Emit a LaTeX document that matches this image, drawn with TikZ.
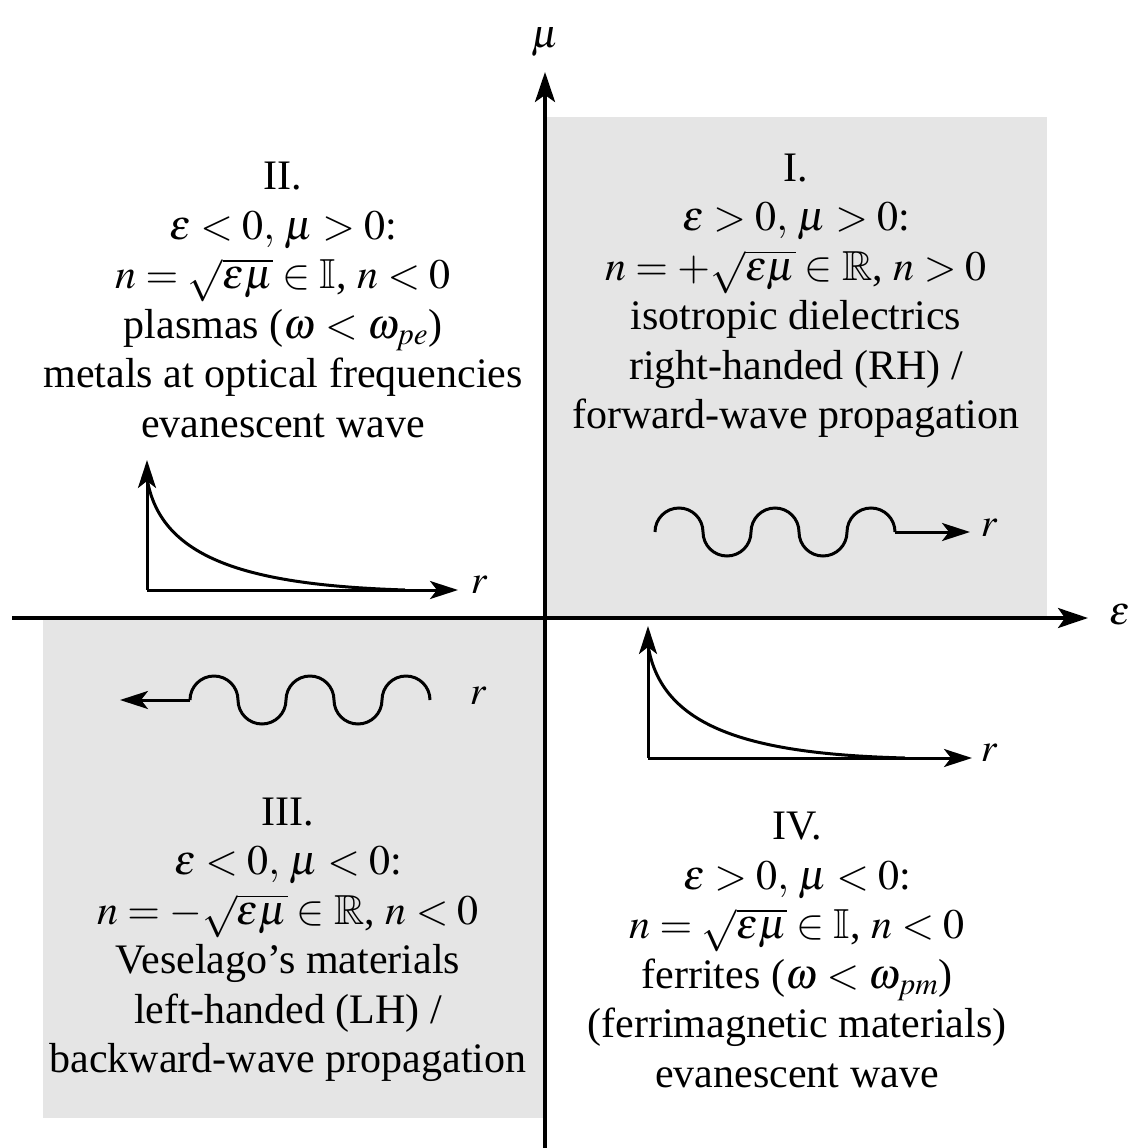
\documentclass[tikz,border=0pt]{standalone}
\usepackage{amssymb}
\usepackage{mathptmx}
\usepackage{fontspec}
\setmainfont{Liberation Serif}
\usetikzlibrary{arrows.meta}
\tikzset{
 ax/.style={line width=3.5pt,-{Stealth[length=30pt,width=20pt,inset=7pt]}},
 sm/.style={line width=3pt,-{Stealth[length=28pt,width=18pt,inset=7pt]}},
 cv/.style={line width=3pt},
 lbl/.style={align=center,font=\fontsize{42}{49.5}\selectfont,inner sep=0pt},
 rl/.style={font=\fontsize{40}{44}\selectfont,inner sep=0pt}
}
\begin{document}
\begin{tikzpicture}[x=1pt,y=-1pt]
\useasboundingbox (0,0) rectangle (1142,1148);
\fill[black!10] (545,117) rectangle (1047,618);
\fill[black!10] (43,618) rectangle (545,1118);
\coordinate (ys) at (545,1148); \coordinate (ye) at (545,72);
\coordinate (xs) at (12,618); \coordinate (xe) at (1088,618);
\draw[ax] (ys) -- (ye);
\draw[ax] (xs) -- (xe);
\node[rl] (mu) at (545,42) {$\mu$};
\node[rl] (eps) at (1120,615) {$\varepsilon$};
\node[lbl] (II) at (283,300) {II.\\ $\varepsilon<0,\,\mu>0$:\\ $n=\sqrt{\varepsilon\mu}\in\mathbb{I}$, $n<0$\\ plasmas ($\omega<\omega_{pe}$)\\ metals at optical frequencies\\ evanescent wave};
\node[lbl] (I) at (796,296) {I.\\ $\varepsilon>0,\,\mu>0$:\\ $n=+\sqrt{\varepsilon\mu}\in\mathbb{R}$, $n>0$\\ isotropic dielectrics\\ right-handed (RH) /\\ forward-wave propagation};
\node[lbl] (III) at (288,940) {III.\\ $\varepsilon<0,\,\mu<0$:\\ $n=-\sqrt{\varepsilon\mu}\in\mathbb{R}$, $n<0$\\ Veselago's materials\\ left-handed (LH) /\\ backward-wave propagation};
\node[lbl] (IV) at (797,950) {IV.\\ $\varepsilon>0,\,\mu<0$:\\ $n=\sqrt{\varepsilon\mu}\in\mathbb{I}$, $n<0$\\ ferrites ($\omega<\omega_{pm}$)\\ (ferrimagnetic materials)\\ evanescent wave};
% decay II
\coordinate (o2) at (147,590);
\draw[sm] (o2) -- (147,460);
\draw[sm] (o2) -- (458,590);
\node[rl] (r2) at (479,585) {$r$};
\draw[cv] (147,478) .. controls (160,560) and (250,585) .. (405,590);
% decay IV
\coordinate (o4) at (648,758);
\draw[sm] (o4) -- (648,626);
\draw[sm] (o4) -- (972,758);
\node[rl] (r4) at (989,753) {$r$};
\draw[cv] (648,645) .. controls (661,728) and (750,754) .. (905,758);
% wave I
\draw[cv] (655,532) arc[start angle=180,end angle=360,radius=24] arc[start angle=180,end angle=0,radius=24]
 arc[start angle=180,end angle=360,radius=24] arc[start angle=180,end angle=0,radius=24]
 arc[start angle=180,end angle=360,radius=24] coordinate (w1);
\draw[sm] (w1) -- (970,532);
\node[rl] (r1) at (989,528) {$r$};
% wave III
\draw[cv] (190,700) coordinate (w3) arc[start angle=180,end angle=360,radius=24] arc[start angle=180,end angle=0,radius=24]
 arc[start angle=180,end angle=360,radius=24] arc[start angle=180,end angle=0,radius=24]
 arc[start angle=180,end angle=360,radius=24];
\draw[sm] (w3) -- (120,700);
\node[rl] (r3) at (478,696) {$r$};
\end{tikzpicture}
\end{document}
